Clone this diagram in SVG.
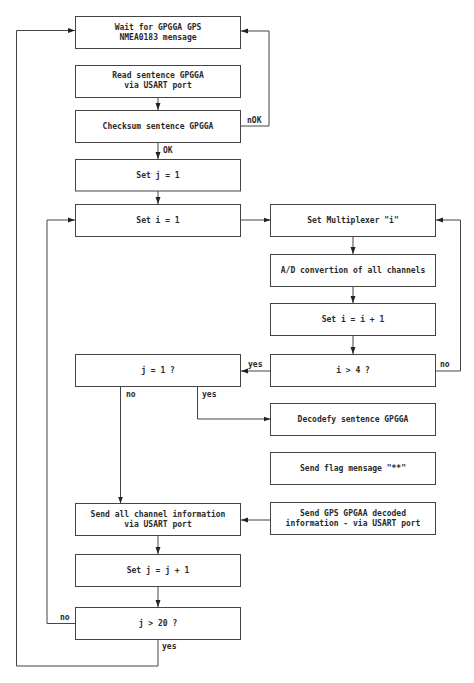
<svg xmlns="http://www.w3.org/2000/svg" width="474" height="683" viewBox="0 0 474 683">
<style>
.b{fill:#fff;stroke:#444;stroke-width:1}
text{font-family:"DejaVu Sans Mono","Liberation Mono",monospace;font-size:8px;fill:#2a2a2a;text-anchor:middle;font-weight:bold}
.l{text-anchor:start}
.c{fill:none;stroke:#444;stroke-width:1}
</style>
<defs>
<marker id="a" markerWidth="8" markerHeight="6" refX="7" refY="3" orient="auto" markerUnits="userSpaceOnUse">
<path d="M0,0.5 L7,3 L0,5.5 Z" fill="#222"/>
</marker>
</defs>
<rect width="474" height="683" fill="#fff"/>
<g id="connectors">
<path class="c" d="M158,97.5 V110" marker-end="url(#a)"/>
<path class="c" d="M158,142.5 V159" marker-end="url(#a)"/>
<path class="c" d="M158,191 V204" marker-end="url(#a)"/>
<path class="c" d="M241,126 H269 V31 H241" marker-end="url(#a)"/>
<path class="c" d="M241,220 H270.5" marker-end="url(#a)"/>
<path class="c" d="M353,236.5 V254" marker-end="url(#a)"/>
<path class="c" d="M353,286.5 V303" marker-end="url(#a)"/>
<path class="c" d="M353,336 V354" marker-end="url(#a)"/>
<path class="c" d="M436,371 H460.5 V220 H436" marker-end="url(#a)"/>
<path class="c" d="M270.5,371 H241" marker-end="url(#a)"/>
<path class="c" d="M120.5,386.5 V503.5" marker-end="url(#a)"/>
<path class="c" d="M197.5,386.5 V419 H270.5" marker-end="url(#a)"/>
<path class="c" d="M270.5,520 H241" marker-end="url(#a)"/>
<path class="c" d="M158,536 V554" marker-end="url(#a)"/>
<path class="c" d="M158,587 V607" marker-end="url(#a)"/>
<path class="c" d="M75,623.5 H47 V220 H75" marker-end="url(#a)"/>
<path class="c" d="M158,639.5 V666 H16.5 V30.5 H75" marker-end="url(#a)"/>
<text class="l" x="247" y="123">nOK</text>
<text class="l" x="163" y="153">OK</text>
<text class="l" x="248" y="367">yes</text>
<text class="l" x="440" y="367">no</text>
<text class="l" x="126" y="397">no</text>
<text class="l" x="202" y="397">yes</text>
<text class="l" x="60" y="620">no</text>
<text class="l" x="162" y="649">yes</text>
</g>
<g id="n1"><rect class="b" x="75.5" y="16.5" width="165" height="32"/><text x="158" y="30">Wait for GPGGA GPS</text><text x="158" y="40">NMEA0183 mensage</text></g>
<g id="n2"><rect class="b" x="75.5" y="65.5" width="165" height="32"/><text x="158" y="78">Read sentence GPGGA</text><text x="158" y="88">via USART port</text></g>
<g id="n3"><rect class="b" x="75.5" y="110.5" width="165" height="32"/><text x="158" y="129">Checksum sentence GPGGA</text></g>
<g id="n4"><rect class="b" x="75.5" y="159.5" width="165" height="31.5"/><text x="158" y="178">Set j = 1</text></g>
<g id="n5"><rect class="b" x="75.5" y="204.5" width="165" height="32"/><text x="158" y="223">Set i = 1</text></g>
<g id="n6"><rect class="b" x="270.5" y="204.5" width="165" height="32"/><text x="353" y="223">Set Multiplexer "i"</text></g>
<g id="n7"><rect class="b" x="270.5" y="254.5" width="165" height="32"/><text x="353" y="273">A/D convertion of all channels</text></g>
<g id="n8"><rect class="b" x="270.5" y="303.5" width="165" height="32"/><text x="353" y="322">Set i = i + 1</text></g>
<g id="n9"><rect class="b" x="270.5" y="354.5" width="165" height="32"/><text x="353" y="373">i &gt; 4 ?</text></g>
<g id="n10"><rect class="b" x="75.5" y="354.5" width="165" height="32"/><text x="158" y="373">j = 1 ?</text></g>
<g id="n11"><rect class="b" x="270.5" y="403.5" width="165" height="32"/><text x="353" y="422">Decodefy sentence GPGGA</text></g>
<g id="n12"><rect class="b" x="270.5" y="452.5" width="165" height="32"/><text x="353" y="471">Send flag mensage "**"</text></g>
<g id="n13"><rect class="b" x="270.5" y="502.5" width="165" height="32"/><text x="353" y="516">Send GPS GPGAA decoded</text><text x="353" y="526">information - via USART port</text></g>
<g id="n14"><rect class="b" x="75.5" y="503.5" width="165" height="32"/><text x="158" y="517">Send all channel information</text><text x="158" y="527">via USART port</text></g>
<g id="n15"><rect class="b" x="75.5" y="554.5" width="165" height="32"/><text x="158" y="573">Set j = j + 1</text></g>
<g id="n16"><rect class="b" x="75.5" y="607.5" width="165" height="32"/><text x="158" y="626">j &gt; 20 ?</text></g>
</svg>
